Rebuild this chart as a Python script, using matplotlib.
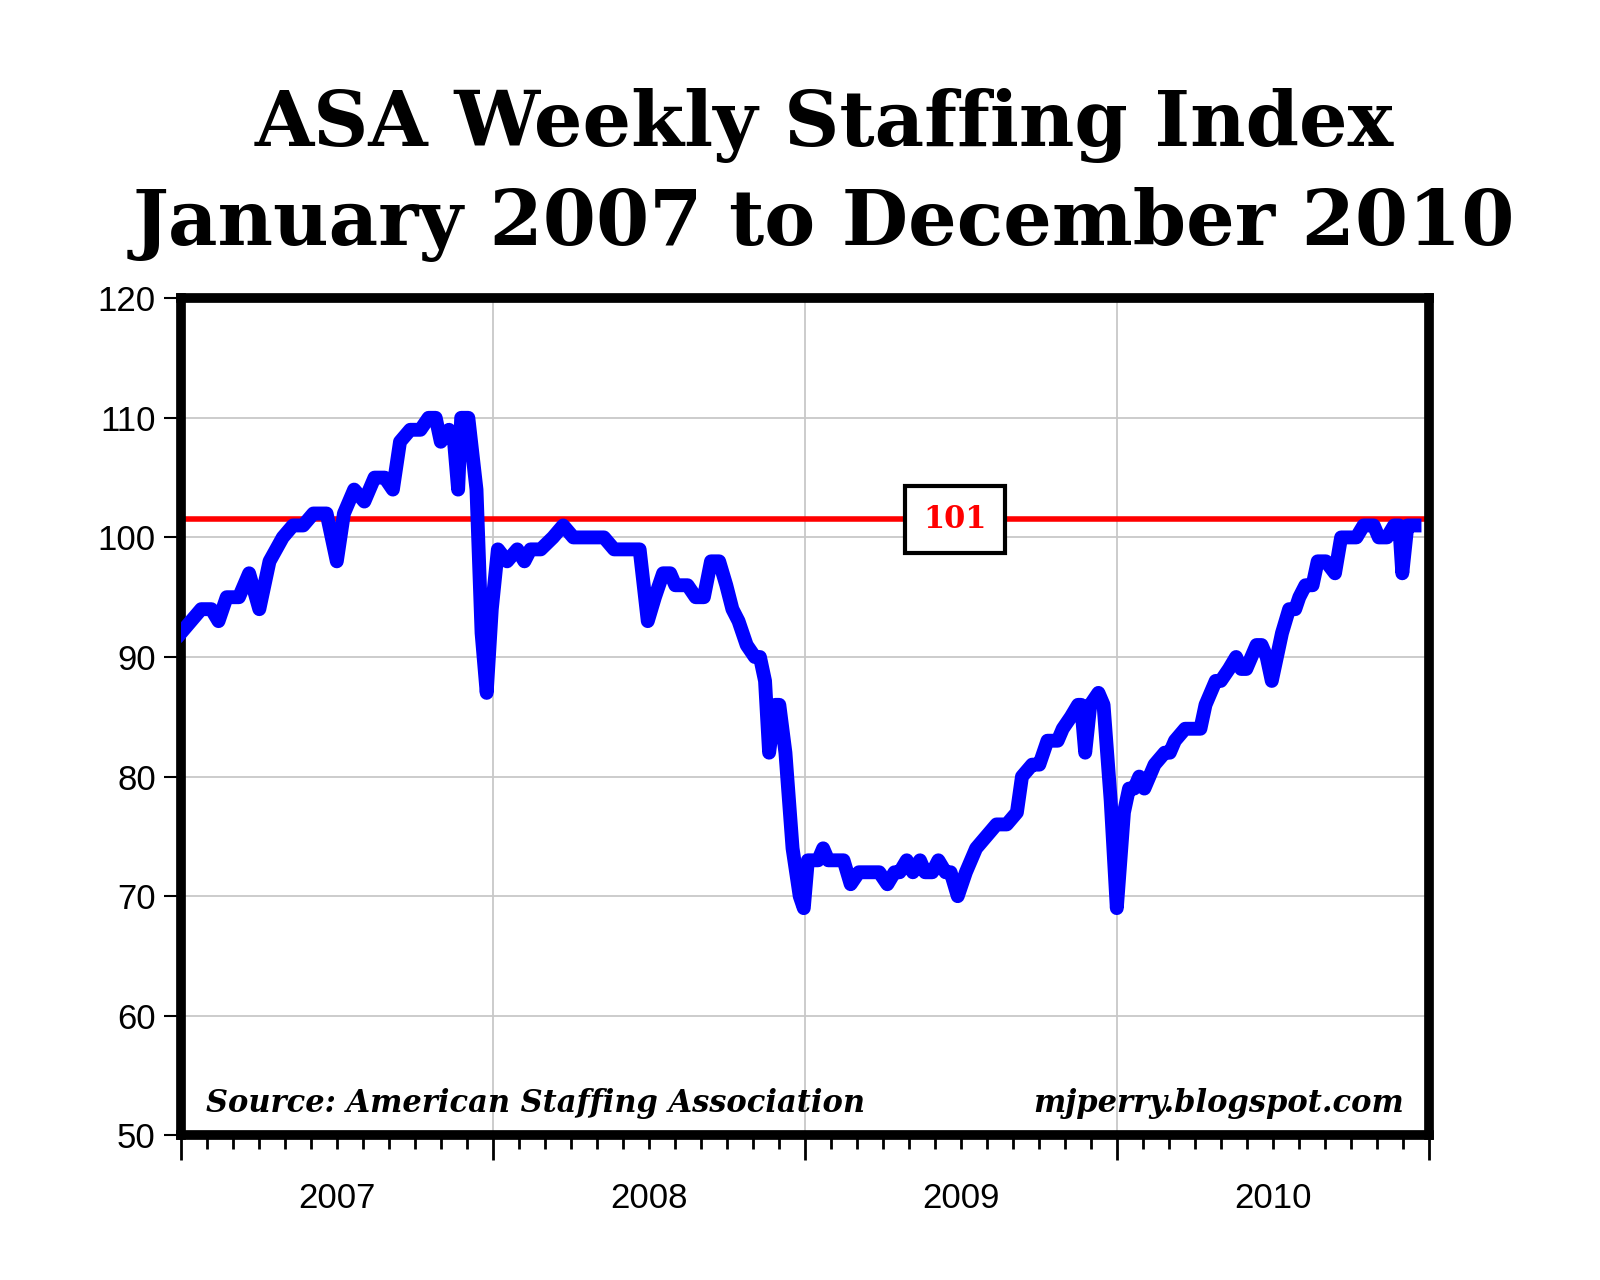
import matplotlib
matplotlib.use("Agg")
import matplotlib.pyplot as plt
import numpy as np

# traced points: pixel-x positions on the reference (2007.0 at 175, 306 px per year) and index values
px = [175, 185, 195, 205, 212, 220, 232, 242, 252, 262, 275, 285, 295, 305, 318, 328, 335, 345,
      355, 365, 375, 383, 390, 400, 410, 418, 425, 430, 438, 443, 447, 450, 457, 465, 470, 475,
      480, 486, 495, 505, 512, 518, 528, 540, 550, 560, 575, 590, 600, 610, 625, 633, 640, 648,
      655, 660, 672, 680, 688, 695, 703, 710, 716, 722, 730, 738, 743, 748, 752, 755, 758, 762,
      768, 775, 782, 786, 790, 800, 805, 810, 825, 832, 840, 860, 868, 875, 880, 887, 893, 900,
      905, 912, 918, 925, 930, 937, 945, 955, 965, 975, 985, 995, 1000, 1010, 1017, 1025, 1035,
      1040, 1048, 1055, 1058, 1062, 1067, 1075, 1080, 1087, 1093, 1100, 1105, 1110, 1115, 1120,
      1130, 1140, 1145, 1150, 1160, 1175, 1180, 1190, 1195, 1203, 1210, 1215, 1220, 1230, 1235,
      1240, 1245, 1250, 1255, 1262, 1268, 1272, 1278, 1285, 1290, 1298, 1307, 1313, 1328, 1335,
      1345, 1350, 1358, 1365, 1370, 1373, 1378, 1385]
index = [92, 93, 94, 94, 93, 95, 95, 97, 94, 98, 100, 101, 101, 102, 102, 98, 102, 104,
         103, 105, 105, 104, 108, 109, 109, 110, 110, 108, 109, 108, 104, 110, 110, 104, 92, 87,
         94, 99, 98, 99, 98, 99, 99, 100, 101, 100, 100, 100, 99, 99, 99, 93, 95, 97,
         97, 96, 96, 95, 95, 98, 98, 96, 94, 93, 91, 90, 90, 88, 82, 84, 86, 86,
         82, 74, 70, 69, 73, 73, 74, 73, 73, 71, 72, 72, 71, 72, 72, 73, 72, 73,
         72, 72, 73, 72, 72, 70, 72, 74, 75, 76, 76, 77, 80, 81, 81, 83, 83,
         84, 85, 86, 86, 82, 86, 87, 86, 78, 69, 77, 79, 79, 80, 79,
         81, 82, 82, 83, 84, 84, 86, 88, 88, 89, 90, 89, 89, 91, 91,
         90, 88, 90, 92, 94, 94, 95, 96, 96, 98, 98, 97, 100, 100, 101,
         101, 100, 100, 101, 101, 97, 101, 101]
years = [2007 + (p - 175) / 306 for p in px]

benchmark = 101.5
year_labels = ["2007", "2008", "2009", "2010"]

fig = plt.figure(figsize=(16, 12.8), dpi=100)
ax = fig.add_axes([0.113, 0.113, 0.78, 0.654])

ax.plot(years, index, color="#0000ff", lw=10, solid_joinstyle="round", zorder=3)
ax.axhline(benchmark, color="#ff0000", lw=4, zorder=2)

ax.set_xlim(2007, 2011)
ax.set_ylim(50, 120)
ax.set_yticks(range(50, 121, 10))
ax.set_xticks([2007, 2008, 2009, 2010, 2011])
ax.set_xticks([2007 + m / 12 for m in range(48)], minor=True)
ax.set_xticklabels([])
for i, lab in enumerate(year_labels):
    ax.text(2007.5 + i, -0.075, lab, transform=ax.get_xaxis_transform(),
            ha="center", va="center", fontsize=25, family="Liberation Sans")

ax.grid(True, which="major", color="#c8c8c8", lw=1.3, zorder=0)
ax.tick_params(axis="y", direction="out", length=12, width=1.5, labelsize=25, pad=6)
ax.tick_params(axis="x", which="major", direction="out", length=18, width=2)
ax.tick_params(axis="x", which="minor", direction="out", length=10, width=2)
for lab in ax.get_yticklabels():
    lab.set_family("Liberation Sans")
for s in ax.spines.values():
    s.set_linewidth(7)

ax.text(2009.48, benchmark, "101", ha="center", va="center", fontsize=22,
        color="#ff0000", weight="bold", family="DejaVu Serif", zorder=4,
        bbox=dict(boxstyle="square,pad=0.6", fc="white", ec="black", lw=3))
ax.text(0.02, 0.038, "Source: American Staffing Association", transform=ax.transAxes,
        fontsize=22, style="italic", weight="bold", family="DejaVu Serif", va="center")
ax.text(0.98, 0.038, "mjperry.blogspot.com", transform=ax.transAxes, ha="right",
        fontsize=22, style="italic", weight="bold", family="DejaVu Serif", va="center")

fig.text(0.515, 0.902, "ASA Weekly Staffing Index", ha="center", va="center",
         fontsize=55, weight="bold", family="DejaVu Serif")
fig.text(0.515, 0.825, "January 2007 to December 2010", ha="center", va="center",
         fontsize=55, weight="bold", family="DejaVu Serif")

fig.savefig("out.png", dpi=100, facecolor="white")
